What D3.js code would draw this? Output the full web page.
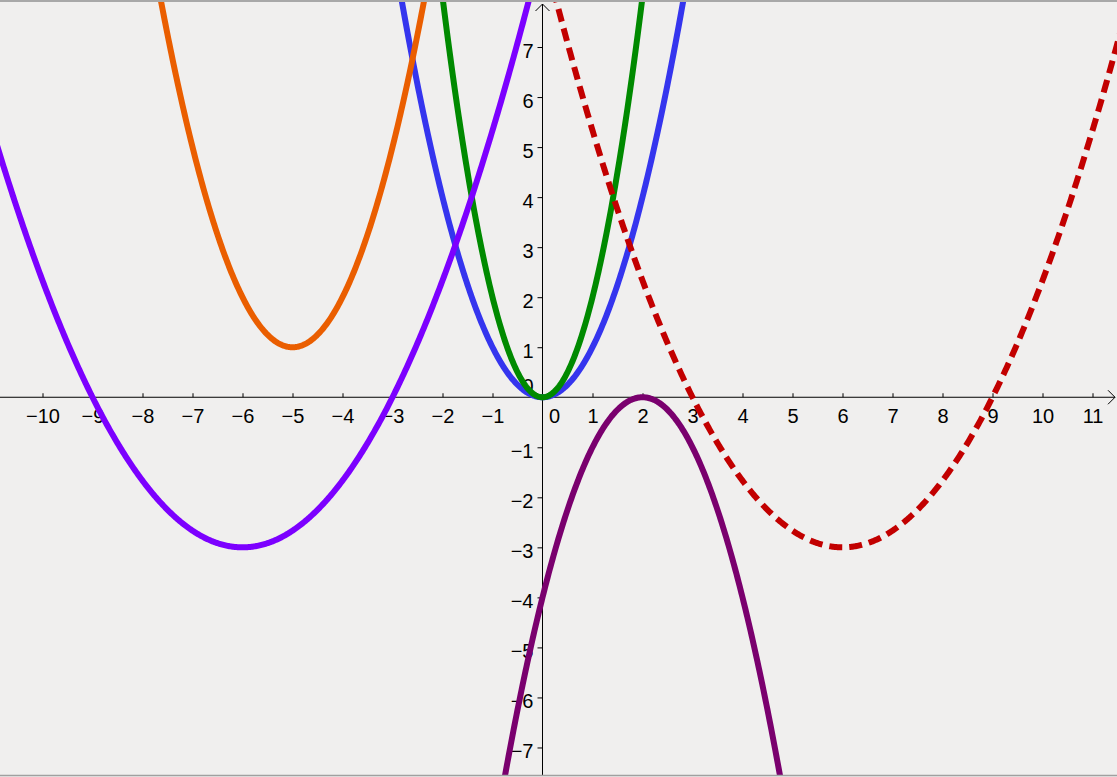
<!DOCTYPE html>
<html>
<head>
<meta charset="utf-8">
<script src="https://cdn.jsdelivr.net/npm/d3@7"></script>
<style>
  html, body { margin: 0; padding: 0; background: #f0efee; overflow: hidden; }
  svg { display: block; }
  .tick text { font-family: "Liberation Sans", Arial, sans-serif; font-size: 20px; fill: #000; }
</style>
</head>
<body>
<div id="chart"></div>
<script>
var w = 1117;
var h = 777;

// parabolas y = a * (x - vx)^2 + vy
var curveNames = ["blue", "green", "orange", "violet", "red", "purple"];
var coefA = [1, 2, 1, 1 / 3, 1 / 3, -1];
var vertexX = [0, 0, -5, -6, 6, 2];
var vertexY = [0, 0, 1, -3, -3, 0];

// tick labels
var xTicks = [-10, -9, -8, -7, -6, -5, -4, -3, -2, -1, 1, 2, 3, 4, 5, 6, 7, 8, 9, 10, 11];
var yTicks = [-7, -6, -5, -4, -3, -2, -1, 1, 2, 3, 4, 5, 6, 7];

var colors = {blue: "#3535ee", green: "#008a00", orange: "#ea5e00", violet: "#7c00ff", red: "#c20000", purple: "#7a006e"};

var x = d3.scaleLinear().domain([-10.85, 11.49]).range([0, w]);
var y = d3.scaleLinear().domain([-7.55, 7.94]).range([775, 0]);

var svg = d3.select("#chart")
            .append("svg")
                .attr("width", w)
                .attr("height", h);

svg.append("rect")
    .attr("width", w)
    .attr("height", h)
    .attr("fill", "#f0efee");

// x axis
var xAxis = svg.append("g")
    .attr("transform", "translate(0," + y(0) + ")")
    .call(d3.axisBottom(x).tickValues(xTicks).tickSizeInner(-4).tickSizeOuter(0).tickPadding(12).tickFormat(d3.format("d")));
xAxis.select(".domain").remove();
xAxis.selectAll(".tick line").attr("stroke", "#000");

// y axis
var yAxis = svg.append("g")
    .attr("transform", "translate(" + x(0) + ",0)")
    .call(d3.axisLeft(y).tickValues(yTicks).tickSizeInner(5).tickSizeOuter(0).tickPadding(4).tickFormat(d3.format("d")));
yAxis.select(".domain").remove();
yAxis.selectAll(".tick text").attr("dy", "0.5em");

// origin labels
svg.append("text")
    .attr("x", x(0) + 12)
    .attr("y", y(0) + 26)
    .attr("text-anchor", "middle")
    .style("font-family", "Liberation Sans, Arial, sans-serif")
    .style("font-size", "20px")
    .text("0");
svg.append("text")
    .attr("x", x(0) - 9)
    .attr("y", y(0) - 4)
    .attr("text-anchor", "end")
    .style("font-family", "Liberation Sans, Arial, sans-serif")
    .style("font-size", "20px")
    .text("0");

// axis lines with open arrow heads
svg.append("line")
    .attr("x1", 0).attr("x2", w - 2)
    .attr("y1", y(0)).attr("y2", y(0))
    .attr("stroke", "#000").attr("stroke-width", 1);
svg.append("path")
    .attr("d", "M" + (w - 9) + "," + (y(0) - 7) + "L" + (w - 2) + "," + y(0) + "L" + (w - 9) + "," + (y(0) + 7))
    .attr("fill", "none").attr("stroke", "#000").attr("stroke-width", 1);
svg.append("line")
    .attr("x1", x(0)).attr("x2", x(0))
    .attr("y1", 775).attr("y2", 4)
    .attr("stroke", "#000").attr("stroke-width", 1);
svg.append("path")
    .attr("d", "M" + (x(0) - 7) + ",11L" + x(0) + ",4L" + (x(0) + 7) + ",11")
    .attr("fill", "none").attr("stroke", "#000").attr("stroke-width", 1);

// curves
svg.append("clipPath")
    .attr("id", "plotClip")
  .append("rect")
    .attr("x", 0).attr("y", 2)
    .attr("width", w).attr("height", 773);

var xs = d3.range(-11, 11.6, 0.02);
var line = d3.line()
    .x(function(d) { return x(d[0]); })
    .y(function(d) { return y(d[1]); });

var curves = curveNames.map(function(name, i) {
    return {
        name: name,
        points: xs.map(function(t) {
            return [t, coefA[i] * (t - vertexX[i]) * (t - vertexX[i]) + vertexY[i]];
        }).filter(function(p) { return p[1] < 9 && p[1] > -9; })
    };
});

svg.append("g")
    .attr("clip-path", "url(#plotClip)")
  .selectAll("path")
    .data(curves)
    .enter()
  .append("path")
    .attr("d", function(d) { return line(d.points); })
    .attr("fill", "none")
    .attr("stroke", function(d) { return colors[d.name]; })
    .attr("stroke-width", 6)
    .attr("stroke-linejoin", "round")
    .attr("stroke-dasharray", function(d) { return d.name === "red" ? "13,7" : null; });

// frame lines top and bottom
svg.append("line")
    .attr("x1", 0).attr("x2", w).attr("y1", 1).attr("y2", 1)
    .attr("stroke", "#a8a8a8").attr("stroke-width", 2);
svg.append("line")
    .attr("x1", 0).attr("x2", w).attr("y1", 775.5).attr("y2", 775.5)
    .attr("stroke", "#a0a0a0").attr("stroke-width", 1.5);
</script>
</body>
</html>
